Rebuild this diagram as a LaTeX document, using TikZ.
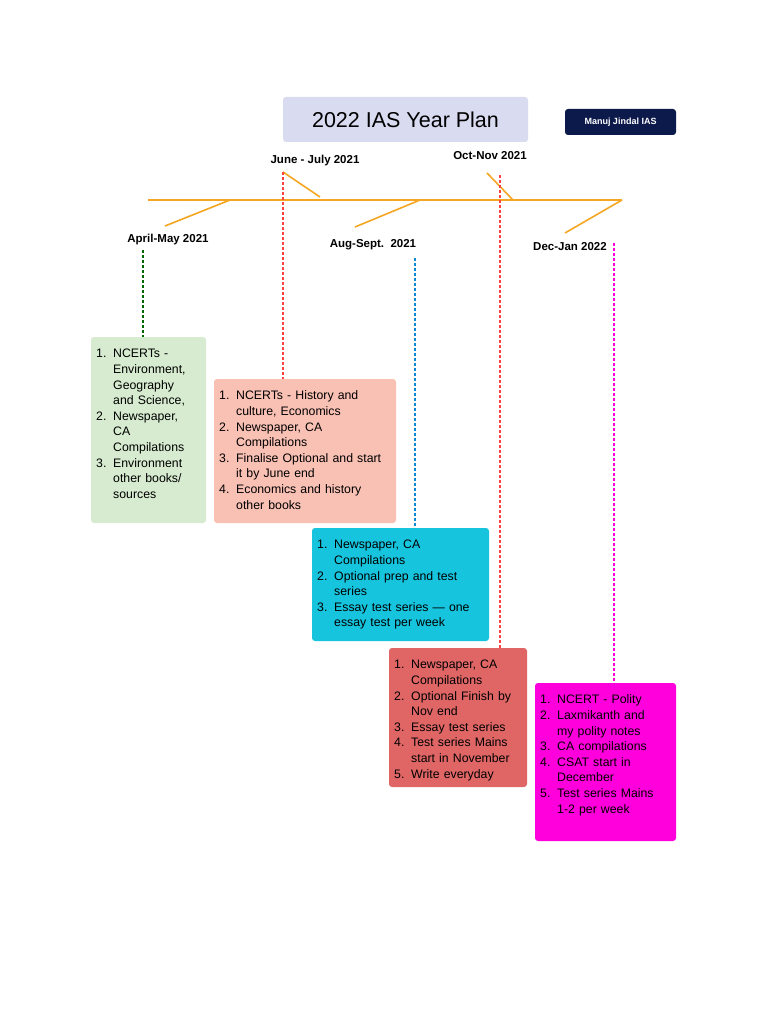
\documentclass[tikz,border=0pt]{standalone}
\usepackage{fontspec}
\setmainfont{Liberation Sans}
\definecolor{org}{HTML}{F5A623}
\definecolor{gbox}{HTML}{D6EBCF}
\definecolor{sbox}{HTML}{F9C0B4}
\definecolor{cbox}{HTML}{17C4DE}
\definecolor{rbox}{HTML}{E06666}
\definecolor{mbox}{HTML}{FF00DD}
\definecolor{navy}{HTML}{0B1A4A}
\definecolor{lav}{HTML}{D9DBF1}
\newcommand{\itm}[2]{\par\hangindent=21pt\hangafter=1\noindent\makebox[21pt][l]{\hspace{4pt}#1.}#2}
\tikzset{
 box/.style={rounded corners=3pt,draw=none},
 lst/.style={anchor=north west,align=left,font=\fontsize{12.3}{15.6}\selectfont,inner sep=0pt},
 lab/.style={font=\bfseries\fontsize{11.5}{14}\selectfont},
 fb/.style={org,line width=1.6pt},
 dsh/.style={dashed,line width=1.2pt,dash pattern=on 3pt off 2pt}
}
\begin{document}
\begin{tikzpicture}[x=1pt,y=-1pt]
\useasboundingbox (0,0) rectangle (768,1024);
\fill[white] (0,0) rectangle (768,1024);
% header
\node[box,fill=lav,minimum width=245,minimum height=45,font=\fontsize{21.5}{24}\selectfont] (title) at (405.5,119.5) {2022 IAS Year Plan};
\node[box,fill=navy,text=white,minimum width=111,minimum height=26,font=\bfseries\fontsize{9}{11}\selectfont] (mj) at (620.5,122) {Manuj Jindal IAS};
% fishbone
\coordinate (L) at (148,200); \coordinate (R) at (622,200);
\draw[fb] (L) -- (R);
\coordinate (a1) at (230,200); \coordinate (a2) at (165,226);
\coordinate (b1) at (320,197); \coordinate (b2) at (283,172);
\coordinate (c1) at (420,200); \coordinate (c2) at (355,227);
\coordinate (d1) at (513,200); \coordinate (d2) at (487,173);
\coordinate (e2) at (565,233);
\draw[fb] (a1)--(a2); \draw[fb] (b1)--(b2); \draw[fb] (c1)--(c2); \draw[fb] (d1)--(d2); \draw[fb] (R)--(e2);
% labels
\node[lab] (la) at (168,240) {April-May 2021};
\node[lab] (lb) at (315,161) {June - July 2021};
\node[lab] (lc) at (373,245) {Aug-Sept.\ \ 2021};
\node[lab] (ld) at (490,156) {Oct-Nov 2021};
\node[lab] (le) at (570,247) {Dec-Jan 2022};
% boxes
\fill[box,fill=gbox] (91,337) rectangle (206,523);
\fill[box,fill=sbox] (214,379) rectangle (396,523);
\fill[box,fill=cbox] (312,528) rectangle (489,641);
\fill[box,fill=rbox] (389,648) rectangle (527,787);
\fill[box,fill=mbox] (535,683) rectangle (676,841);
\coordinate (g) at (143,337); \coordinate (s) at (283,379); \coordinate (c) at (415,528); \coordinate (r) at (500,648); \coordinate (m) at (614,683);
\draw[dsh,color=green!40!black,line width=2.2pt] (143,250) -- (g);
\draw[dsh,color=red!75] (b2) -- (s);
\draw[dsh,color=cyan!70!blue] (415,258) -- (c);
\draw[dsh,color=red!75] (500,175) -- (r);
\draw[dsh,color=mbox] (614,243) -- (m);
% texts
\node[lst,text width=112] (t1) at (92,342) {\itm{1}{NCERTs -\newline Environment,\newline Geography\newline and Science,}\itm{2}{Newspaper,\newline CA\newline Compilations}\itm{3}{Environment\newline other books/\newline sources}\par};
\node[lst,text width=180] (t2) at (215,384) {\itm{1}{NCERTs - History and\newline culture, Economics}\itm{2}{Newspaper, CA\newline Compilations}\itm{3}{Finalise Optional and start\newline it by June end}\itm{4}{Economics and history\newline other books}\par};
\node[lst,text width=175] (t3) at (313,533) {\itm{1}{Newspaper, CA\newline Compilations}\itm{2}{Optional prep and test\newline series}\itm{3}{Essay test series — one\newline essay test per week}\par};
\node[lst,text width=136] (t4) at (390,653) {\itm{1}{Newspaper, CA\newline Compilations}\itm{2}{Optional Finish by\newline Nov end}\itm{3}{Essay test series}\itm{4}{Test series Mains\newline start in November}\itm{5}{Write everyday}\par};
\node[lst,text width=140] (t5) at (536,688) {\itm{1}{NCERT - Polity}\itm{2}{Laxmikanth and\newline my polity notes}\itm{3}{CA compilations}\itm{4}{CSAT start in\newline December}\itm{5}{Test series Mains\newline 1-2 per week}\par};
\end{tikzpicture}
\end{document}
